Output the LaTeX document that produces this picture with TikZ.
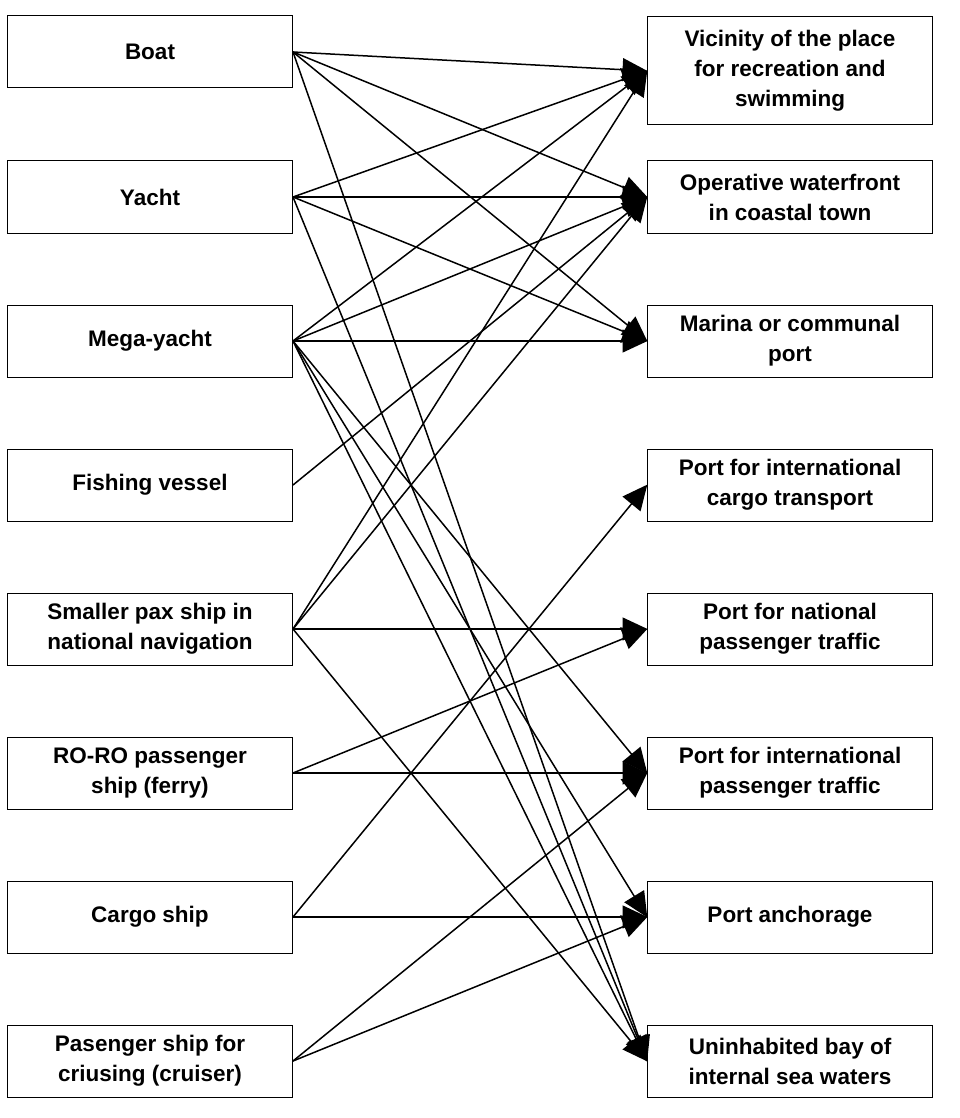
\documentclass[tikz,border=0pt]{standalone}
\usepackage{fontspec}
\setmainfont{Liberation Sans}
\usetikzlibrary{arrows.meta}
\begin{document}
\begin{tikzpicture}[x=1pt,y=-1pt,
  box/.style={draw,line width=1pt,minimum width=285pt,minimum height=72pt,inner sep=0pt,align=center,
    font=\fontsize{22.5}{30}\selectfont\bfseries},
  ln/.style={line width=1.5pt,-{Triangle[length=25pt,width=23pt]},shorten >=-0.5pt}]
\useasboundingbox (0,0) rectangle (959,1118);
\node[box] (boat) at (150,52) {Boat};
\node[box] (yacht) at (150,197) {Yacht};
\node[box] (mega) at (150,341) {Mega-yacht};
\node[box] (fish) at (150,485) {Fishing vessel};
\node[box] (pax) at (150,629) {Smaller pax ship in\\national navigation};
\node[box] (roro) at (150,773) {RO-RO passenger\\ship (ferry)};
\node[box] (cargo) at (150,917) {Cargo ship};
\node[box] (cruise) at (150,1061) {Pasenger ship for\\criusing (cruiser)};
\node[box,minimum height=108pt] (vic) at (790,71) {Vicinity of the place\\for recreation and\\swimming};
\node[box] (op) at (790,197) {Operative waterfront\\in coastal town};
\node[box] (mar) at (790,341) {Marina or communal\\port};
\node[box] (pic) at (790,485) {Port for international\\cargo transport};
\node[box] (pnp) at (790,629) {Port for national\\passenger traffic};
\node[box] (pip) at (790,773) {Port for international\\passenger traffic};
\node[box] (anc) at (790,917) {Port anchorage};
\node[box] (unh) at (790,1061) {Uninhabited bay of\\internal sea waters};
\foreach \s/\t in {boat/vic,boat/op,boat/mar,boat/unh,
  yacht/vic,yacht/op,yacht/mar,yacht/unh,
  mega/vic,mega/op,mega/mar,mega/pip,mega/anc,mega/unh,
  fish/op,pax/vic,pax/op,pax/pnp,pax/unh,
  roro/pnp,roro/pip,cargo/pic,cargo/anc,cruise/pip,cruise/anc}
  \draw[ln] (\s.east) -- (\t.west);
\end{tikzpicture}
\end{document}
